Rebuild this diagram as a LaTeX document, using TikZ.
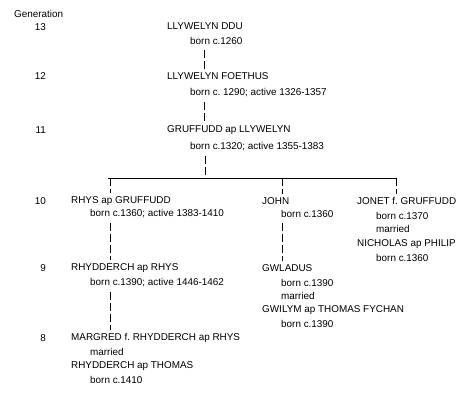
\documentclass[tikz,border=0pt]{standalone}
\usepackage{fontspec}
\setmainfont{Liberation Sans}
\usepackage{tikz}
\frenchspacing
\tikzset{txt/.style={anchor=west, inner sep=0pt, font=\fontsize{9.9}{12}\selectfont},
  gen/.style={anchor=east, inner sep=0pt, font=\fontsize{9.9}{12}\selectfont},
  link/.style={line width=0.6pt, dash pattern=on 8pt off 3pt},
  bar/.style={line width=0.8pt}}

\begin{document}
\begin{tikzpicture}[x=1pt,y=-1pt]
\useasboundingbox (0,0) rectangle (475,405);
% generation column
\node[anchor=west, inner sep=0pt, font=\fontsize{9.9}{12}\selectfont] (g) at (14,14) {Generation};
\node[gen] (g13) at (46,27) {13};
\node[gen] (g12) at (46,76) {12};
\node[gen] (g11) at (46,130) {11};
\node[gen] (g10) at (46,201) {10};
\node[gen] (g9) at (46,268) {9};
\node[gen] (g8) at (46,338) {8};
% main line
\node[txt] (n13) at (167,26) {LLYWELYN DDU};
\node[txt] (b13) at (190,41) {born c.1260};
\node[txt] (n12) at (167,76) {LLYWELYN FOETHUS};
\node[txt] (b12) at (190,93) {born c. 1290; active 1326-1357};
\node[txt] (n11) at (167,130) {GRUFFUDD ap LLYWELYN};
\node[txt] (b11) at (190,147) {born c.1320; active 1355-1383};
\draw[link] ([xshift=14pt,yshift=-5pt]b13.south west) -- ([xshift=37pt,yshift=3pt]n12.north west);
\draw[link] ([xshift=14pt,yshift=-5pt]b12.south west) -- ([xshift=37pt,yshift=3pt]n11.north west);
% children of GRUFFUDD
\coordinate (fork) at (205,178);
\coordinate (left) at (108,178);
\coordinate (right) at (396,178);
\draw[link] ([xshift=15pt,yshift=-5pt]b11.south west) -- (fork);
\draw[bar] (left) -- (right);
% RHYS branch
\node[txt] (n10a) at (71,201) {RHYS ap GRUFFUDD};
\node[txt] (b10a) at (90,214) {born c.1360; active 1383-1410};
\node[txt] (n9a) at (71,268) {RHYDDERCH ap RHYS};
\node[txt] (b9a) at (90,283) {born c.1390; active 1446-1462};
\node[txt] (n8a) at (71,338) {MARGRED f. RHYDDERCH ap RHYS};
\node[txt] (m8a) at (90,352) {married};
\node[txt] (s8a) at (71,366) {RHYDDERCH ap THOMAS};
\node[txt] (c8a) at (90,380) {born c.1410};
\draw[link] ([xshift=2pt]left) -- ([xshift=39pt,yshift=3pt]n10a.north west);
\draw[link] ([xshift=20pt,yshift=-5pt]b10a.south west) -- ([xshift=39pt,yshift=3pt]n9a.north west);
\draw[link] ([xshift=20pt,yshift=-5pt]b9a.south west) -- ([xshift=39pt,yshift=3pt]n8a.north west);
% JOHN branch
\node[txt] (n10b) at (262,201) {JOHN};
\node[txt] (b10b) at (281,214) {born c.1360};
\node[txt] (n9b) at (262,268) {GWLADUS};
\node[txt] (b9b) at (281,283) {born c.1390};
\node[txt] (m9b) at (281,296) {married};
\node[txt] (s9b) at (262,310) {GWILYM ap THOMAS FYCHAN};
\node[txt] (c9b) at (281,324) {born c.1390};
\draw[link] (282,178) -- ([xshift=20pt,yshift=3pt]n10b.north west);
\draw[link] ([xshift=1pt,yshift=-5pt]b10b.south west) -- ([xshift=20pt,yshift=3pt]n9b.north west);
% JONET branch
\node[txt] (n10c) at (357,201) {JONET f. GRUFFUDD};
\node[txt] (b10c) at (376,216) {born c.1370};
\node[txt] (m10c) at (376,229) {married};
\node[txt] (s10c) at (357,244) {NICHOLAS ap PHILIP};
\node[txt] (c10c) at (376,258) {born c.1360};
\draw[link] (right) -- ([xshift=39pt,yshift=3pt]n10c.north west);
\end{tikzpicture}
\end{document}
